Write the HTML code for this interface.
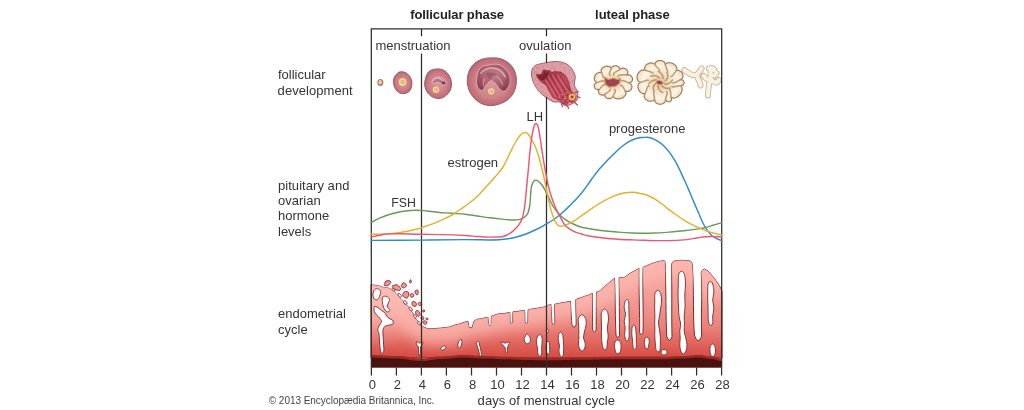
<!DOCTYPE html>
<html><head><meta charset="utf-8"><title>Menstrual cycle</title>
<style>
html,body{margin:0;padding:0;background:#fff;}
svg{display:block}
text{font-family:"Liberation Sans",Arial,sans-serif;fill:#343434;font-size:13px}
.b{font-weight:bold;fill:#222}
.ln{stroke:#2e2e2e;stroke-width:1.25;fill:none}
.cv{fill:none;stroke-width:1.45;stroke-linecap:round;stroke-linejoin:round}
</style></head><body>
<svg width="1024" height="410" viewBox="0 0 1024 410">
<defs>
<linearGradient id="endo" x1="0" y1="258" x2="0" y2="358" gradientUnits="userSpaceOnUse">
<stop offset="0" stop-color="#f8aca6"/><stop offset="0.4" stop-color="#f39c96"/><stop offset="0.68" stop-color="#eb827b"/><stop offset="0.86" stop-color="#e0645c"/><stop offset="1" stop-color="#d54a42"/>
</linearGradient>
<radialGradient id="lm" cx="382" cy="292" r="56" gradientUnits="userSpaceOnUse">
<stop offset="0" stop-color="#fdd0c9" stop-opacity="0.85"/><stop offset="0.5" stop-color="#fbc0b9" stop-opacity="0.55"/><stop offset="1" stop-color="#f8aca5" stop-opacity="0"/>
</radialGradient>
<filter id="bl" x="-10%" y="-50%" width="120%" height="200%"><feGaussianBlur stdDeviation="7"/></filter>
</defs>
<rect width="1024" height="410" fill="#fff"/>

<!--ENDO-->
<path d="M371 358 L371 284.7 L375.0 285.4 L380.0 286.2 L384.2 287.7 L388.0 288.0 L391.2 289.4 L394.0 291.0 L396.0 294.0 L398.5 294.7 L400.0 298.0 L402.8 300.5 L404.5 304.0 L408.5 306.3 L410.0 310.0 L413.2 313.2 L414.5 317.5 L417.8 321.3 L420.0 325.0 L423.6 327.0 L427.0 328.6 L430.6 328.8 L436.0 328.5 L441.7 328.0 L449.5 327.0 L454.0 325.3 L459.3 324.0 L468.0 321.2 L469.0 327.5 L472.0 328.0 L474.0 321.2 L476.8 319.3 L482.0 318.6 L487.4 317.3 L488.0 317.3 C488.2 320.2 488.4 324.3 488.4 324.3 Q489.8 327.9 491.2 324.3 C491.2 323.3 491.2 319.2 491.4 316.3 L496.0 314.6 L500.0 313.6 L505.0 313.4 L509.2 312.5 L509.8 312.5 C510.0 316.0 510.1 320.9 510.1 321.9 Q511.4 325.3 512.7 321.9 C512.7 320.2 512.8 315.3 513.0 311.8 L518.0 311.4 L524.0 310.3 L524.6 310.3 C524.8 314.5 524.9 320.3 525.0 321.7 Q526.4 325.5 527.8 321.7 C527.9 319.6 528.0 313.8 528.2 309.6 L536.0 308.5 L545.0 306.8 L549.7 304.6 L550.9 304.4 C551.1 310.5 551.8 318.9 551.9 322.6 Q553.4 326.5 554.9 322.6 C555.0 318.8 554.4 310.4 554.6 304.3 L562.0 302.8 L570.2 301.4 L570.5 301.2 C570.7 309.5 571.6 321.1 571.9 324.6 Q574.0 330.1 576.1 324.6 C576.4 319.5 575.6 307.9 575.8 299.6 L579.0 298.4 L583.8 296.6 L589.0 295.0 L592.4 293.6 L592.3 293.4 C592.5 305.4 592.6 322.2 592.7 329.9 Q594.4 334.3 596.1 329.9 C596.2 320.8 596.3 304.0 596.5 292.0 L599.0 291.6 L604.7 286.4 L610.0 282.0 L614.8 278.2 L614.5 278.0 C615.3 296.0 615.2 321.1 616.0 335.2 Q617.8 340.0 619.6 335.2 C619.2 320.7 619.5 295.6 619.1 277.6 L624.0 277.6 L631.0 272.8 L638.8 268.6 L638.9 268.3 C638.6 288.4 640.0 316.6 639.6 332.4 Q641.3 336.8 643.0 332.4 C643.6 315.7 642.4 287.5 643.1 267.4 L647.0 265.6 L652.0 263.6 L658.0 261.6 L664.0 260.6 L665.0 261.4 L665.1 262.6 C666.1 285.8 665.7 318.3 666.8 336.8 Q669.4 343.5 672.0 336.8 C671.5 318.7 672.1 286.8 671.5 264.0 L673.0 262.0 L675.4 260.6 L683.0 260.3 L690.4 261.0 L692.0 263.4 L692.6 267.0 L692.5 269.0 C694.2 290.4 692.6 320.5 694.7 336.1 Q698.2 345.3 701.7 336.1 C700.8 321.3 702.5 292.6 701.2 272.0 L702.4 270.3 L704.3 269.0 L708.0 271.0 L712.7 276.4 L716.0 280.6 L719.6 286.0 L722.0 291.5 L722 358 Z" fill="url(#endo)" stroke="#7e2828" stroke-width="1" stroke-linejoin="round"/>
<clipPath id="ec"><path d="M371 358 L371 284.7 L375.0 285.4 L380.0 286.2 L384.2 287.7 L388.0 288.0 L391.2 289.4 L394.0 291.0 L396.0 294.0 L398.5 294.7 L400.0 298.0 L402.8 300.5 L404.5 304.0 L408.5 306.3 L410.0 310.0 L413.2 313.2 L414.5 317.5 L417.8 321.3 L420.0 325.0 L423.6 327.0 L427.0 328.6 L430.6 328.8 L436.0 328.5 L441.7 328.0 L449.5 327.0 L454.0 325.3 L459.3 324.0 L468.0 321.2 L469.0 327.5 L472.0 328.0 L474.0 321.2 L476.8 319.3 L482.0 318.6 L487.4 317.3 L488.0 317.3 C488.2 320.2 488.4 324.3 488.4 324.3 Q489.8 327.9 491.2 324.3 C491.2 323.3 491.2 319.2 491.4 316.3 L496.0 314.6 L500.0 313.6 L505.0 313.4 L509.2 312.5 L509.8 312.5 C510.0 316.0 510.1 320.9 510.1 321.9 Q511.4 325.3 512.7 321.9 C512.7 320.2 512.8 315.3 513.0 311.8 L518.0 311.4 L524.0 310.3 L524.6 310.3 C524.8 314.5 524.9 320.3 525.0 321.7 Q526.4 325.5 527.8 321.7 C527.9 319.6 528.0 313.8 528.2 309.6 L536.0 308.5 L545.0 306.8 L549.7 304.6 L550.9 304.4 C551.1 310.5 551.8 318.9 551.9 322.6 Q553.4 326.5 554.9 322.6 C555.0 318.8 554.4 310.4 554.6 304.3 L562.0 302.8 L570.2 301.4 L570.5 301.2 C570.7 309.5 571.6 321.1 571.9 324.6 Q574.0 330.1 576.1 324.6 C576.4 319.5 575.6 307.9 575.8 299.6 L579.0 298.4 L583.8 296.6 L589.0 295.0 L592.4 293.6 L592.3 293.4 C592.5 305.4 592.6 322.2 592.7 329.9 Q594.4 334.3 596.1 329.9 C596.2 320.8 596.3 304.0 596.5 292.0 L599.0 291.6 L604.7 286.4 L610.0 282.0 L614.8 278.2 L614.5 278.0 C615.3 296.0 615.2 321.1 616.0 335.2 Q617.8 340.0 619.6 335.2 C619.2 320.7 619.5 295.6 619.1 277.6 L624.0 277.6 L631.0 272.8 L638.8 268.6 L638.9 268.3 C638.6 288.4 640.0 316.6 639.6 332.4 Q641.3 336.8 643.0 332.4 C643.6 315.7 642.4 287.5 643.1 267.4 L647.0 265.6 L652.0 263.6 L658.0 261.6 L664.0 260.6 L665.0 261.4 L665.1 262.6 C666.1 285.8 665.7 318.3 666.8 336.8 Q669.4 343.5 672.0 336.8 C671.5 318.7 672.1 286.8 671.5 264.0 L673.0 262.0 L675.4 260.6 L683.0 260.3 L690.4 261.0 L692.0 263.4 L692.6 267.0 L692.5 269.0 C694.2 290.4 692.6 320.5 694.7 336.1 Q698.2 345.3 701.7 336.1 C700.8 321.3 702.5 292.6 701.2 272.0 L702.4 270.3 L704.3 269.0 L708.0 271.0 L712.7 276.4 L716.0 280.6 L719.6 286.0 L722.0 291.5 L722 358 Z"/></clipPath>
<rect x="371" y="280" width="70" height="75" fill="url(#lm)" clip-path="url(#ec)"/>
<g clip-path="url(#ec)"><path d="M371.0 284.7L384.0 287.7L391.0 289.4L398.0 294.7L403.0 300.5L408.5 306.3L413.0 313.2L418.0 321.3L424.0 327.0L431.0 328.8L442.0 328.0L450.0 327.0L459.0 324.0L468.0 321.2L477.0 319.3L488.0 317.3L500.0 313.5L512.0 312.0L526.0 310.0L545.0 306.8L553.0 304.5L572.0 300.5L584.0 296.6L594.0 293.0L605.0 286.4L616.0 278.0L631.0 272.8L641.0 268.0L652.0 263.6L664.0 260.6L672.0 262.5L683.0 260.3L692.0 262.0L701.0 271.0L705.0 269.0L713.0 276.4L722.0 291.5" fill="none" stroke="#fcb8b0" stroke-width="32" stroke-linejoin="round" filter="url(#bl)" opacity="0.8"/></g>
<path d="M373.8 291.0C374.4 289.9 375.5 288.7 376.6 288.6C377.7 288.5 379.6 289.5 380.2 290.6C380.8 291.7 380.4 293.5 380.0 295.0C379.6 296.5 378.5 298.9 377.6 299.6C376.7 300.3 375.2 299.8 374.4 299.0C373.6 298.2 373.0 296.3 372.9 295.0C372.8 293.7 373.2 292.1 373.8 291.0Z" fill="#fff" stroke="#7e2828" stroke-width="0.9"/>
<path d="M382.6 297.2C383.3 296.3 385.3 296.0 386.5 296.4C387.7 296.8 389.3 298.5 389.6 299.6C389.9 300.7 388.7 301.8 388.3 303.0C387.9 304.2 387.0 305.8 387.3 307.0C387.6 308.2 390.1 309.2 390.0 310.0C389.9 310.8 388.1 312.5 387.0 312.0C385.9 311.5 384.2 308.8 383.4 307.0C382.6 305.2 382.5 303.1 382.4 301.5C382.3 299.9 381.9 298.1 382.6 297.2Z" fill="#fff" stroke="#7e2828" stroke-width="0.9"/>
<path d="M374.4 306.6C375.0 306.0 376.8 307.0 378.0 307.6C379.2 308.2 380.3 309.7 381.4 310.5C382.5 311.3 383.7 311.6 384.6 312.5C385.5 313.4 385.9 315.0 386.6 316.0C387.3 317.0 388.0 317.7 389.0 318.4C390.0 319.1 391.8 319.1 392.5 320.0C393.2 320.9 393.7 323.1 393.0 324.0C392.3 324.9 389.8 324.8 388.4 325.2C387.0 325.6 385.7 325.7 384.8 326.4C383.9 327.1 383.3 328.1 383.0 329.5C382.7 330.9 382.9 332.8 383.0 335.0C383.1 337.2 383.4 340.3 383.5 343.0C383.6 345.7 384.0 349.2 383.8 351.0C383.6 352.8 382.8 353.7 382.2 353.5C381.6 353.3 380.8 351.9 380.4 350.0C380.0 348.1 379.8 344.7 379.6 342.0C379.4 339.3 379.3 336.1 379.0 334.0C378.7 331.9 377.7 331.0 377.8 329.5C377.9 328.0 379.0 326.3 379.6 325.0C380.2 323.7 381.6 322.8 381.6 321.6C381.6 320.4 380.4 319.1 379.6 318.0C378.8 316.9 377.5 316.1 376.6 315.0C375.7 313.9 374.8 312.9 374.4 311.5C374.0 310.1 373.8 307.2 374.4 306.6Z" fill="#fff" stroke="#7e2828" stroke-width="0.9"/>
<path d="M416.4 341.6C416.9 341.3 418.5 343.0 419.6 343.0C420.7 343.0 422.4 341.5 422.8 341.8C423.2 342.1 422.6 344.1 422.2 345.0C421.8 345.9 420.9 345.8 420.6 347.0C420.3 348.2 420.7 350.4 420.6 352.0C420.5 353.6 420.1 356.5 419.8 356.5C419.5 356.5 418.8 353.6 418.6 352.0C418.4 350.4 418.7 348.2 418.4 347.0C418.1 345.8 417.1 345.9 416.8 345.0C416.5 344.1 415.9 341.9 416.4 341.6Z" fill="#fff" stroke="#7e2828" stroke-width="0.9"/>
<path d="M445.6 346.7C445.8 347.0 445.9 347.6 445.6 348.1C445.4 348.5 444.7 349.1 444.1 349.4C443.5 349.8 442.7 350.1 442.2 350.1C441.6 350.1 441.0 349.8 440.8 349.4C440.7 349.1 440.9 348.4 441.2 348.0C441.5 347.5 442.0 347.0 442.5 346.7C443.1 346.3 444.0 345.8 444.5 345.8C445.0 345.8 445.4 346.3 445.6 346.7Z" fill="#fff" stroke="#7e2828" stroke-width="0.9"/>
<path d="M461.7 344.0C461.4 345.0 460.9 346.1 460.4 346.8C459.9 347.5 459.2 348.4 458.7 348.3C458.3 348.2 458.1 347.1 458.0 346.3C457.9 345.4 457.9 344.1 458.1 343.1C458.4 342.1 459.1 340.9 459.6 340.3C460.1 339.6 460.8 339.1 461.2 339.2C461.6 339.4 461.8 340.3 461.9 341.1C462.0 341.9 461.9 343.1 461.7 344.0Z" fill="#fff" stroke="#7e2828" stroke-width="0.9"/>
<path d="M476.4 342.5C476.7 341.8 478.3 341.2 478.8 341.6C479.3 342.0 479.3 343.6 479.6 345.0C479.9 346.4 480.5 348.2 480.8 350.0C481.1 351.8 481.7 354.6 481.6 355.5C481.5 356.4 480.5 356.6 480.0 355.7C479.5 354.8 478.9 351.6 478.4 350.0C477.9 348.4 477.5 347.2 477.2 346.0C476.9 344.8 476.1 343.2 476.4 342.5Z" fill="#fff" stroke="#7e2828" stroke-width="0.9"/>
<path d="M500.6 342.0C501.0 341.7 503.5 343.0 505.0 343.0C506.5 343.0 508.8 341.8 509.4 342.1C510.0 342.4 508.8 344.0 508.5 345.0C508.2 346.0 507.6 346.7 507.5 348.0C507.4 349.3 507.8 352.0 507.6 352.8C507.4 353.6 506.6 353.6 506.2 352.8C505.8 352.0 505.8 349.3 505.2 348.0C504.6 346.7 503.6 346.0 502.8 345.0C502.0 344.0 500.2 342.3 500.6 342.0Z" fill="#fff" stroke="#7e2828" stroke-width="0.9"/>
<path d="M527.4 334.0C528.2 334.2 529.5 336.2 530.0 337.5C530.5 338.8 530.6 340.4 530.2 341.5C529.8 342.6 528.3 343.8 527.4 343.8C526.5 343.8 525.3 342.5 524.8 341.6C524.3 340.7 524.1 339.5 524.2 338.6C524.3 337.7 524.9 336.8 525.4 336.0C525.9 335.2 526.6 333.8 527.4 334.0Z" fill="#fff" stroke="#7e2828" stroke-width="0.9"/>
<path d="M539.6 334.4C538.8 334.4 537.8 335.7 537.3 337.0C536.7 338.3 536.3 340.2 536.3 342.0C536.4 343.8 537.2 346.0 537.5 348.0C537.8 350.0 537.6 352.6 538.0 354.0C538.4 355.4 539.2 356.1 539.8 356.1C540.4 356.1 541.3 355.4 541.6 354.0C541.9 352.6 541.6 350.0 541.7 348.0C541.8 346.0 542.0 343.8 542.1 342.0C542.1 340.2 542.4 338.3 541.9 337.0C541.5 335.7 540.4 334.4 539.6 334.4Z" fill="#fff" stroke="#7e2828" stroke-width="0.9"/>
<path d="M548.8 331.0C548.9 331.5 548.5 332.3 548.2 332.6C547.9 332.8 547.2 332.7 546.8 332.5C546.5 332.2 546.1 331.5 546.1 331.0C546.1 330.5 546.5 329.7 546.8 329.5C547.2 329.3 547.8 329.4 548.1 329.7C548.4 329.9 548.8 330.5 548.8 331.0Z" fill="#fff" stroke="#7e2828" stroke-width="0.9"/>
<path d="M548.0 341.3C547.5 341.3 546.9 341.9 546.6 343.0C546.2 344.1 545.9 346.4 546.0 348.0C546.0 349.6 546.4 351.5 546.8 352.5C547.1 353.5 547.7 354.2 548.2 354.2C548.7 354.2 549.4 353.5 549.6 352.5C549.9 351.5 549.7 349.6 549.6 348.0C549.6 346.4 549.7 344.1 549.4 343.0C549.2 341.9 548.5 341.3 548.0 341.3Z" fill="#fff" stroke="#7e2828" stroke-width="0.9"/>
<path d="M560.6 332.2C560.0 332.2 559.0 333.2 558.6 334.5C558.3 335.8 558.2 338.1 558.3 340.0C558.5 341.9 559.4 344.2 559.5 346.0C559.6 347.8 558.8 349.5 558.9 351.0C558.9 352.5 559.5 354.0 559.9 355.0C560.4 356.0 561.0 357.0 561.6 357.0C562.2 357.0 563.0 356.0 563.3 355.0C563.6 354.0 563.5 352.5 563.5 351.0C563.6 349.5 563.7 347.8 563.7 346.0C563.6 344.2 563.5 341.9 563.3 340.0C563.1 338.1 563.0 335.8 562.6 334.5C562.1 333.2 561.2 332.2 560.6 332.2Z" fill="#fff" stroke="#7e2828" stroke-width="0.9"/>
<path d="M582.0 314.6C580.8 314.6 579.0 316.8 578.4 318.5C577.9 320.2 578.6 322.8 578.7 325.0C578.7 327.2 578.8 329.8 578.8 332.0C578.8 334.2 578.9 336.2 578.9 338.0C578.8 339.8 578.3 341.3 578.4 343.0C578.4 344.7 578.6 346.7 579.2 348.0C579.8 349.3 581.1 351.1 582.0 351.1C582.9 351.1 584.3 349.3 584.8 348.0C585.3 346.7 585.4 344.7 585.2 343.0C585.0 341.3 583.7 339.8 583.5 338.0C583.4 336.2 584.0 334.2 584.4 332.0C584.8 329.8 585.9 327.2 586.1 325.0C586.3 322.8 586.3 320.2 585.6 318.5C584.9 316.8 583.2 314.6 582.0 314.6Z" fill="#fff" stroke="#7e2828" stroke-width="0.9"/>
<path d="M604.6 309.1C603.6 309.1 602.0 310.7 601.5 312.5C601.0 314.3 601.3 317.4 601.3 320.0C601.3 322.6 601.4 325.3 601.5 328.0C601.5 330.7 601.3 333.5 601.4 336.0C601.5 338.5 601.7 341.1 602.0 343.0C602.2 344.9 602.4 346.4 602.9 347.5C603.4 348.6 604.2 349.8 604.9 349.8C605.6 349.8 606.5 348.6 606.9 347.5C607.3 346.4 607.0 344.9 607.2 343.0C607.5 341.1 608.2 338.5 608.2 336.0C608.2 333.5 607.3 330.7 607.3 328.0C607.4 325.3 608.4 322.6 608.5 320.0C608.5 317.4 608.3 314.3 607.7 312.5C607.1 310.7 605.6 309.1 604.6 309.1Z" fill="#fff" stroke="#7e2828" stroke-width="0.9"/>
<path d="M614.6 343.0C615.0 341.6 616.4 340.1 617.4 340.0C618.4 339.9 620.0 341.2 620.6 342.5C621.2 343.8 621.1 345.8 621.0 347.5C620.9 349.2 620.5 351.6 619.8 352.6C619.1 353.6 617.4 354.1 616.6 353.4C615.8 352.7 615.1 350.3 614.8 348.6C614.5 346.9 614.2 344.4 614.6 343.0Z" fill="#fff" stroke="#7e2828" stroke-width="0.9"/>
<path d="M626.9 299.5C626.3 299.5 625.6 300.1 625.2 301.5C624.7 302.9 624.1 305.9 624.2 308.0C624.2 310.1 625.6 311.8 625.6 314.0C625.6 316.2 624.3 318.7 624.2 321.0C624.2 323.3 625.2 325.8 625.2 328.0C625.3 330.2 624.5 332.2 624.6 334.0C624.6 335.8 625.1 337.9 625.6 339.0C626.0 340.1 626.6 340.9 627.1 340.9C627.6 340.9 628.3 340.1 628.6 339.0C629.0 337.9 629.2 335.8 629.2 334.0C629.3 332.2 629.0 330.2 629.0 328.0C629.0 325.8 629.2 323.3 629.2 321.0C629.2 318.7 629.1 316.2 629.0 314.0C628.9 311.8 628.9 310.1 628.8 308.0C628.8 305.9 628.9 302.9 628.6 301.5C628.3 300.1 627.5 299.5 626.9 299.5Z" fill="#fff" stroke="#7e2828" stroke-width="0.9"/>
<path d="M633.8 325.1C633.3 325.1 632.6 325.5 632.2 327.0C631.9 328.5 631.8 331.7 631.8 334.0C631.9 336.3 632.4 338.8 632.6 341.0C632.9 343.2 632.8 346.1 633.2 347.5C633.5 348.9 634.2 349.4 634.7 349.4C635.2 349.4 636.0 348.9 636.2 347.5C636.5 346.1 636.4 343.2 636.4 341.0C636.3 338.8 636.3 336.3 636.2 334.0C636.0 331.7 635.7 328.5 635.3 327.0C635.0 325.5 634.3 325.1 633.8 325.1Z" fill="#fff" stroke="#7e2828" stroke-width="0.9"/>
<path d="M645.0 338.6C645.5 337.6 646.7 337.2 647.4 337.4C648.1 337.6 649.0 338.7 649.2 340.0C649.4 341.3 649.1 343.6 648.8 345.0C648.5 346.4 648.2 348.1 647.6 348.6C647.0 349.1 645.9 348.8 645.4 348.0C644.9 347.2 644.7 345.2 644.6 343.6C644.5 342.0 644.5 339.6 645.0 338.6Z" fill="#fff" stroke="#7e2828" stroke-width="0.9"/>
<path d="M657.8 290.4C656.9 290.4 655.5 291.7 655.0 293.5C654.5 295.3 654.8 298.4 654.8 301.0C654.7 303.6 654.6 306.5 654.7 309.0C654.7 311.5 654.9 313.7 654.9 316.0C654.9 318.3 654.7 320.7 654.7 323.0C654.7 325.3 654.9 327.7 654.9 330.0C654.9 332.3 654.7 334.7 654.8 337.0C654.9 339.3 655.2 341.9 655.4 344.0C655.6 346.1 655.6 348.2 656.0 349.5C656.4 350.8 657.3 351.8 658.0 351.8C658.7 351.8 659.6 350.8 660.0 349.5C660.4 348.2 660.3 346.1 660.4 344.0C660.4 341.9 660.5 339.3 660.4 337.0C660.2 334.7 659.8 332.3 659.5 330.0C659.2 327.7 658.5 325.3 658.5 323.0C658.5 320.7 659.2 318.3 659.5 316.0C659.9 313.7 660.2 311.5 660.5 309.0C660.9 306.5 661.6 303.6 661.6 301.0C661.6 298.4 661.2 295.3 660.6 293.5C660.0 291.7 658.7 290.4 657.8 290.4Z" fill="#fff" stroke="#7e2828" stroke-width="0.9"/>
<path d="M661.4 351.0C661.8 350.3 663.1 349.4 664.0 349.4C664.9 349.4 666.4 350.2 666.8 351.0C667.2 351.8 666.9 353.3 666.4 354.0C665.9 354.7 664.6 355.0 663.8 355.0C663.0 355.0 662.0 354.5 661.6 353.8C661.2 353.1 661.0 351.7 661.4 351.0Z" fill="#fff" stroke="#7e2828" stroke-width="0.9"/>
<path d="M681.6 271.3C680.6 271.3 679.2 272.4 678.7 274.5C678.1 276.6 678.4 280.6 678.3 284.0C678.2 287.4 678.0 291.3 678.0 295.0C678.0 298.7 678.4 302.5 678.5 306.0C678.7 309.5 678.6 313.0 679.0 316.0C679.3 319.0 680.6 321.5 680.7 324.0C680.9 326.5 679.9 328.7 679.8 331.0C679.7 333.3 680.2 335.7 680.2 338.0C680.2 340.3 679.7 342.8 679.8 345.0C679.9 347.2 680.2 349.5 680.8 351.0C681.4 352.5 682.5 353.9 683.4 353.9C684.3 353.9 685.4 352.5 686.0 351.0C686.6 349.5 687.0 347.2 687.0 345.0C686.9 342.8 686.3 340.3 685.8 338.0C685.3 335.7 684.4 333.3 684.2 331.0C683.9 328.7 684.4 326.5 684.5 324.0C684.5 321.5 684.1 319.0 684.2 316.0C684.3 313.0 685.0 309.5 685.1 306.0C685.2 302.5 684.7 298.7 684.8 295.0C684.9 291.3 685.5 287.4 685.5 284.0C685.4 280.6 685.2 276.6 684.5 274.5C683.9 272.4 682.6 271.3 681.6 271.3Z" fill="#fff" stroke="#7e2828" stroke-width="0.9"/>
<path d="M710.4 281.4C709.6 281.4 708.5 282.2 708.1 284.0C707.6 285.8 707.8 289.3 707.7 292.0C707.6 294.7 707.7 297.3 707.7 300.0C707.8 302.7 708.0 305.3 708.1 308.0C708.1 310.7 708.0 313.5 708.1 316.0C708.2 318.5 708.3 321.4 708.8 323.0C709.2 324.6 710.1 325.3 710.8 325.3C711.5 325.3 712.5 324.6 712.8 323.0C713.1 321.4 712.5 318.5 712.7 316.0C712.9 313.5 714.0 310.7 713.9 308.0C713.9 305.3 712.7 302.7 712.7 300.0C712.7 297.3 713.9 294.7 713.9 292.0C713.9 289.3 713.3 285.8 712.7 284.0C712.1 282.2 711.2 281.4 710.4 281.4Z" fill="#fff" stroke="#7e2828" stroke-width="0.9"/>
<path d="M712.6 343.9C711.8 343.9 710.7 345.3 710.3 346.5C709.8 347.7 709.9 349.7 710.0 351.0C710.1 352.3 710.2 353.5 710.7 354.5C711.1 355.5 712.0 356.8 712.7 356.8C713.4 356.8 714.2 355.5 714.7 354.5C715.2 353.5 715.6 352.3 715.6 351.0C715.6 349.7 715.4 347.7 714.9 346.5C714.4 345.3 713.4 343.9 712.6 343.9Z" fill="#fff" stroke="#7e2828" stroke-width="0.9"/>
<path d="M401.2 297.0C400.9 297.2 400.2 297.3 399.8 297.1C399.3 296.9 398.7 296.4 398.4 296.0C398.2 295.6 398.2 295.1 398.2 294.7C398.2 294.3 398.3 293.5 398.6 293.4C398.9 293.3 399.7 293.8 400.2 294.2C400.7 294.5 401.2 295.1 401.4 295.6C401.6 296.0 401.5 296.7 401.2 297.0Z" fill="#fff" stroke="#7e2828" stroke-width="0.9"/>
<path d="M406.8 304.0C406.5 304.2 405.8 304.2 405.4 304.1C404.9 303.9 404.1 303.5 403.8 303.1C403.5 302.7 403.6 302.0 403.7 301.6C403.7 301.2 403.9 300.7 404.3 300.6C404.6 300.5 405.3 300.9 405.8 301.2C406.2 301.6 406.9 302.1 407.0 302.6C407.2 303.0 407.0 303.7 406.8 304.0Z" fill="#fff" stroke="#7e2828" stroke-width="0.9"/>
<path d="M412.3 310.7C412.0 310.9 411.2 310.6 410.7 310.4C410.3 310.2 409.8 309.9 409.5 309.5C409.3 309.2 409.1 308.6 409.1 308.2C409.1 307.8 409.2 307.0 409.6 307.0C409.9 306.9 410.7 307.4 411.2 307.8C411.7 308.1 412.2 308.7 412.3 309.2C412.5 309.6 412.5 310.5 412.3 310.7Z" fill="#fff" stroke="#7e2828" stroke-width="0.9"/>
<path d="M416.2 317.6C415.9 317.8 415.5 318.0 415.1 317.9C414.8 317.8 414.2 317.3 413.9 316.9C413.7 316.6 413.5 316.0 413.6 315.7C413.6 315.3 413.9 314.9 414.2 314.8C414.5 314.8 415.1 315.0 415.6 315.3C416.0 315.5 416.6 316.2 416.7 316.6C416.8 316.9 416.4 317.4 416.2 317.6Z" fill="#fff" stroke="#7e2828" stroke-width="0.9"/>
<path d="M420.5 324.5C420.2 324.7 419.8 324.9 419.3 324.8C418.9 324.7 418.3 324.2 418.0 323.8C417.7 323.4 417.4 322.7 417.5 322.3C417.6 322.0 418.1 321.7 418.4 321.7C418.8 321.7 419.3 322.0 419.6 322.3C420.0 322.6 420.6 323.0 420.8 323.3C420.9 323.7 420.7 324.2 420.5 324.5Z" fill="#fff" stroke="#7e2828" stroke-width="0.9"/>
<path d="M394.7 290.9C394.5 291.1 393.9 291.2 393.5 291.1C393.1 290.9 392.7 290.5 392.4 290.1C392.2 289.7 391.9 289.1 392.0 288.9C392.0 288.6 392.5 288.5 392.8 288.4C393.1 288.4 393.6 288.3 393.9 288.5C394.3 288.7 394.6 289.3 394.7 289.7C394.8 290.1 394.9 290.7 394.7 290.9Z" fill="#fff" stroke="#7e2828" stroke-width="0.9"/>
<path d="M390.8 281.9C390.9 282.4 390.5 283.1 390.0 283.7C389.5 284.4 388.6 285.3 387.7 285.6C386.8 285.9 385.0 285.8 384.5 285.4C384.0 285.0 384.6 283.9 384.8 283.2C385.1 282.4 385.3 281.4 386.0 281.0C386.8 280.6 388.4 280.5 389.2 280.7C389.9 280.8 390.7 281.4 390.8 281.9Z" fill="#f19492" stroke="#7e2828" stroke-width="0.9"/>
<path d="M400.6 289.7C400.3 290.2 399.4 290.6 398.5 290.5C397.5 290.4 395.7 290.0 394.7 289.3C393.7 288.6 392.3 287.0 392.2 286.2C392.2 285.5 393.5 285.3 394.4 285.1C395.2 284.8 396.4 284.5 397.3 284.9C398.2 285.3 399.4 286.6 399.9 287.4C400.5 288.2 400.8 289.1 400.6 289.7Z" fill="#f19492" stroke="#7e2828" stroke-width="0.9"/>
<path d="M406.7 285.4C406.7 285.9 406.0 286.6 405.4 287.0C404.9 287.5 404.1 288.0 403.4 287.9C402.7 287.8 401.7 287.1 401.4 286.5C401.1 286.0 401.4 285.0 401.8 284.4C402.1 283.8 402.7 282.9 403.4 282.8C404.0 282.7 404.9 283.3 405.4 283.8C406.0 284.2 406.7 284.9 406.7 285.4Z" fill="#f19492" stroke="#7e2828" stroke-width="0.9"/>
<path d="M411.2 281.6C411.2 282.1 411.0 282.8 410.8 283.0C410.6 283.1 410.2 283.0 410.0 282.8C409.8 282.6 409.5 282.4 409.5 282.0C409.4 281.6 409.5 281.0 409.7 280.7C409.8 280.3 410.2 279.8 410.5 279.8C410.7 279.8 411.0 280.2 411.1 280.5C411.3 280.8 411.3 281.2 411.2 281.6Z" fill="#f19492" stroke="#7e2828" stroke-width="0.9"/>
<path d="M408.5 295.5C408.2 296.4 407.8 297.9 407.1 298.2C406.5 298.5 405.3 297.9 404.6 297.4C403.9 296.9 402.9 296.1 402.7 295.3C402.6 294.4 403.3 292.7 404.0 292.1C404.6 291.5 405.9 291.4 406.7 291.5C407.5 291.7 408.5 292.2 408.8 292.9C409.1 293.5 408.8 294.6 408.5 295.5Z" fill="#f19492" stroke="#7e2828" stroke-width="0.9"/>
<path d="M413.8 295.4C413.8 295.9 413.5 296.6 413.2 296.9C412.8 297.2 412.1 297.3 411.6 297.2C411.1 297.1 410.6 296.6 410.4 296.2C410.1 295.8 410.1 295.1 410.3 294.6C410.5 294.1 411.1 293.5 411.5 293.4C412.0 293.3 412.7 293.7 413.1 294.0C413.5 294.3 413.8 294.9 413.8 295.4Z" fill="#f19492" stroke="#7e2828" stroke-width="0.9"/>
<path d="M418.3 292.7C418.2 293.3 417.9 294.3 417.5 294.6C417.1 294.8 416.4 294.6 416.0 294.4C415.6 294.1 415.3 293.7 415.2 293.1C415.0 292.5 414.9 291.4 415.2 290.9C415.4 290.4 416.2 290.1 416.7 290.1C417.2 290.0 417.8 290.3 418.1 290.7C418.3 291.2 418.4 292.0 418.3 292.7Z" fill="#f19492" stroke="#7e2828" stroke-width="0.9"/>
<path d="M416.4 305.2C416.1 305.7 415.6 306.3 415.0 306.4C414.3 306.4 413.1 306.1 412.6 305.6C412.1 305.2 412.0 304.3 412.0 303.6C412.0 303.0 412.0 302.1 412.4 301.8C412.9 301.4 414.2 301.4 414.9 301.7C415.5 302.0 416.1 302.9 416.4 303.5C416.6 304.1 416.6 304.7 416.4 305.2Z" fill="#f19492" stroke="#7e2828" stroke-width="0.9"/>
<path d="M421.9 304.0C421.9 304.4 421.5 305.0 421.1 305.3C420.7 305.6 420.0 305.8 419.6 305.7C419.1 305.6 418.7 305.1 418.5 304.7C418.3 304.3 418.1 303.6 418.3 303.2C418.4 302.8 419.1 302.3 419.6 302.2C420.0 302.2 420.5 302.6 420.9 302.9C421.3 303.2 421.8 303.6 421.9 304.0Z" fill="#f19492" stroke="#7e2828" stroke-width="0.9"/>
<path d="M419.6 312.6C419.9 313.3 420.2 314.3 420.0 315.0C419.8 315.6 419.0 316.5 418.4 316.5C417.8 316.5 416.9 315.5 416.5 314.9C416.0 314.3 415.5 313.4 415.5 312.7C415.5 312.0 415.8 310.9 416.3 310.6C416.8 310.3 417.8 310.4 418.3 310.8C418.8 311.1 419.3 311.9 419.6 312.6Z" fill="#f19492" stroke="#7e2828" stroke-width="0.9"/>
<path d="M424.7 311.0C424.6 311.3 424.5 311.6 424.3 311.8C424.0 312.0 423.6 312.1 423.4 312.0C423.1 312.0 422.7 311.8 422.6 311.5C422.4 311.3 422.5 310.8 422.7 310.5C422.8 310.3 423.1 310.0 423.4 310.0C423.6 309.9 424.1 309.9 424.4 310.0C424.6 310.2 424.7 310.7 424.7 311.0Z" fill="#f19492" stroke="#7e2828" stroke-width="0.9"/>
<path d="M423.8 318.0C423.8 318.4 423.8 319.1 423.5 319.3C423.2 319.6 422.4 319.9 422.0 319.8C421.6 319.7 421.1 319.1 421.0 318.7C420.8 318.3 420.9 317.8 421.0 317.3C421.2 316.9 421.6 316.3 422.0 316.2C422.4 316.1 423.0 316.5 423.3 316.8C423.7 317.1 423.8 317.6 423.8 318.0Z" fill="#f19492" stroke="#7e2828" stroke-width="0.9"/>
<path d="M426.6 323.5C426.4 323.9 426.0 324.2 425.4 324.3C424.9 324.3 423.9 324.0 423.5 323.6C423.1 323.3 423.0 322.5 422.9 322.1C422.9 321.7 423.0 321.1 423.4 321.0C423.8 320.8 424.5 320.8 425.1 321.0C425.7 321.2 426.7 321.7 426.9 322.1C427.2 322.6 426.9 323.2 426.6 323.5Z" fill="#f19492" stroke="#7e2828" stroke-width="0.9"/>
<path d="M428.0 319.0C428.0 319.3 427.9 319.7 427.7 319.9C427.5 320.0 427.1 319.9 426.8 319.9C426.5 319.8 426.3 319.6 426.1 319.4C426.0 319.2 425.9 318.8 426.0 318.5C426.1 318.3 426.5 317.9 426.7 317.9C427.0 317.8 427.4 318.0 427.6 318.2C427.8 318.4 428.0 318.7 428.0 319.0Z" fill="#f19492" stroke="#7e2828" stroke-width="0.9"/>
<path d="M371 355.0 C383.5 355.0 383.5 356.0 396.0 356.0 C408.5 356.0 408.5 358.4 421.0 358.4 C431.5 358.4 431.5 356.4 442.0 356.4 C452.8 356.4 452.8 355.0 463.5 355.0 C474.2 355.0 474.2 356.0 485.0 356.0 C495.3 356.0 495.3 356.7 505.6 356.7 C516.3 356.7 516.3 357.4 527.0 357.4 C537.5 357.4 537.5 357.8 548.0 357.8 C564.0 357.8 564.0 357.2 580.0 357.2 C595.5 357.2 595.5 356.7 611.0 356.7 C625.5 356.7 625.5 356.6 640.0 356.6 C652.0 356.6 652.0 356.7 664.0 356.7 C673.0 356.7 673.0 356.0 682.0 356.0 C690.5 356.0 690.5 355.0 699.0 355.0 C705.0 355.0 705.0 356.4 711.0 356.4 C716.5 356.4 716.5 358.4 722.0 358.4 L722 367.5 L371 367.5 Z" fill="#9a2a24"/>
<path d="M371 357.6 C383.5 357.6 383.5 358.6 396.0 358.6 C408.5 358.6 408.5 361.0 421.0 361.0 C431.5 361.0 431.5 359.0 442.0 359.0 C452.8 359.0 452.8 357.6 463.5 357.6 C474.2 357.6 474.2 358.6 485.0 358.6 C495.3 358.6 495.3 359.3 505.6 359.3 C516.3 359.3 516.3 360.0 527.0 360.0 C537.5 360.0 537.5 360.4 548.0 360.4 C564.0 360.4 564.0 359.8 580.0 359.8 C595.5 359.8 595.5 359.3 611.0 359.3 C625.5 359.3 625.5 359.2 640.0 359.2 C652.0 359.2 652.0 359.3 664.0 359.3 C673.0 359.3 673.0 358.6 682.0 358.6 C690.5 358.6 690.5 357.6 699.0 357.6 C705.0 357.6 705.0 359.0 711.0 359.0 C716.5 359.0 716.5 361.0 722.0 361.0 L722 367.5 L371 367.5 Z" fill="#481210"/>
<!--/ENDO-->

<!--FOLLICLES-->
<defs>
<radialGradient id="fg" cx="0.5" cy="0.5" r="0.5"><stop offset="0" stop-color="#dc979d"/><stop offset="0.7" stop-color="#d0838b"/><stop offset="1" stop-color="#bd6b76"/></radialGradient>
<radialGradient id="cav" cx="0.5" cy="0.4" r="0.6"><stop offset="0" stop-color="#c4838e"/><stop offset="0.6" stop-color="#aa5e6e"/><stop offset="1" stop-color="#8c4054"/></radialGradient>
<radialGradient id="lobe" cx="0.45" cy="0.4" r="0.6"><stop offset="0" stop-color="#fdf5e6"/><stop offset="0.7" stop-color="#f4e2c6"/><stop offset="1" stop-color="#dfc096"/></radialGradient>
<linearGradient id="ovc" x1="0" y1="0" x2="1" y2="1"><stop offset="0" stop-color="#8a2838"/><stop offset="0.5" stop-color="#c04a5c"/><stop offset="1" stop-color="#b03a4c"/></linearGradient>
</defs>
<ellipse cx="380.3" cy="82.4" rx="3" ry="3.5" fill="#aa7468"/><ellipse cx="380.2" cy="82.3" rx="1.8" ry="2.2" fill="#f3cc9e"/>
<path d="M411.7 80.8C412.1 82.6 411.9 84.7 411.6 86.4C411.2 88.2 410.4 90.1 409.3 91.3C408.2 92.5 406.5 93.1 405.0 93.4C403.4 93.7 401.7 93.8 400.2 93.2C398.7 92.6 397.1 91.2 396.0 89.8C395.0 88.4 394.2 86.4 393.8 84.6C393.4 82.8 393.2 80.6 393.7 78.9C394.1 77.2 395.2 75.6 396.3 74.4C397.4 73.2 398.9 72.1 400.4 71.8C401.9 71.5 403.7 71.9 405.2 72.5C406.6 73.2 408.2 74.3 409.2 75.7C410.3 77.1 411.3 79.0 411.7 80.8Z" fill="url(#fg)" stroke="#9c5660" stroke-width="1"/>
<path d="M411.6 80.8L407.2 81.7M411.9 83.1L407.7 82.9M411.8 85.3L407.0 83.9M411.3 87.5L406.8 85.0M410.4 89.4L406.7 86.2M409.1 91.1L406.3 87.3M407.6 92.3L405.3 87.7M405.9 93.2L404.3 87.9M404.0 93.6L403.4 88.8M402.1 93.5L402.4 87.7M400.2 92.9L401.3 88.3M398.4 91.9L400.6 87.2M396.8 90.5L399.9 86.4M395.5 88.8L399.3 85.6M394.5 86.8L398.7 84.7M393.8 84.6L397.9 83.7M393.5 82.3L398.3 82.5M393.6 80.1L398.0 81.3M394.1 77.9L398.2 80.2M395.0 76.0L398.9 79.4M396.3 74.3L399.4 78.4M397.8 73.1L400.4 78.2M399.5 72.2L401.2 77.8M401.4 71.8L402.1 77.5M403.3 71.9L403.0 77.0M405.2 72.5L403.9 77.5M407.0 73.5L404.8 78.2M408.6 74.9L405.7 78.6M409.9 76.6L406.3 79.6M410.9 78.6L406.7 80.7" stroke="#b9636f" stroke-width="0.5" fill="none" opacity="0.55"/>
<circle cx="402.6" cy="82.0" r="3.9" fill="#f8e6c0" stroke="#c99a62" stroke-width="0.5"/><circle cx="402.6" cy="82.0" r="2.3" fill="#e9a24d"/><circle cx="402.6" cy="82.0" r="1.4" fill="#f7dca8"/><circle cx="402.9" cy="82.0" r="0.6" fill="#9a5a30"/>
<path d="M451.2 81.2C451.7 83.7 451.5 86.7 450.7 89.0C449.9 91.3 448.3 93.4 446.6 95.0C444.9 96.5 442.8 97.9 440.6 98.3C438.5 98.8 435.9 98.3 433.7 97.5C431.6 96.6 429.3 95.0 427.8 93.1C426.3 91.1 425.2 88.3 424.8 85.8C424.5 83.3 424.9 80.6 425.6 78.2C426.3 75.8 427.3 73.0 429.0 71.5C430.6 70.0 433.2 69.4 435.5 69.1C437.7 68.8 440.1 68.8 442.2 69.6C444.3 70.4 446.6 72.1 448.1 74.0C449.6 75.9 450.8 78.7 451.2 81.2Z" fill="url(#fg)" stroke="#9c5660" stroke-width="1"/>
<path d="M450.7 81.3L444.7 82.3M451.0 83.5L445.3 83.5M450.9 85.8L444.6 84.7M450.5 88.1L445.2 86.1M449.8 90.2L444.9 87.4M448.8 92.1L444.1 88.4M447.6 93.9L443.7 89.7M446.1 95.4L442.4 89.9M444.4 96.6L441.7 91.1M442.5 97.4L440.6 91.5M440.6 98.0L439.5 91.7M438.5 98.1L438.3 91.7M436.5 98.0L437.1 92.1M434.5 97.4L435.9 91.9M432.6 96.5L435.0 90.8M430.8 95.3L433.8 90.3M429.2 93.8L433.5 88.8M427.8 92.1L432.1 88.5M426.7 90.1L431.5 87.3M425.8 88.0L430.5 86.2M425.3 85.7L430.4 84.8M425.0 83.5L431.0 83.5M425.1 81.2L430.9 82.2M425.5 78.9L430.8 80.9M426.2 76.8L431.9 80.1M427.2 74.9L432.0 78.7M428.4 73.1L433.0 78.0M429.9 71.6L433.8 77.3M431.6 70.4L434.7 76.8M433.5 69.6L435.3 75.3M435.4 69.0L436.7 75.9M437.5 68.9L437.7 75.7M439.5 69.0L438.8 75.5M441.5 69.6L440.1 75.2M443.4 70.5L440.8 76.7M445.2 71.7L442.0 76.9M446.8 73.2L443.0 77.7M448.2 74.9L444.1 78.4M449.3 76.9L444.7 79.6M450.2 79.0L445.3 80.8" stroke="#b9636f" stroke-width="0.5" fill="none" opacity="0.55"/>
<path d="M432.2 81.8C432.6 78.4 435.8 76.4 439.4 77.4C442.8 78.2 445.8 80.2 446.4 82.8C446.6 85 444 85.8 442.4 84.6C440.6 82.8 438 81.6 435.6 82.6C434 83.400 432 83.600 432.200 81.800Z" fill="#b67280" stroke="#eccace" stroke-width="0.7"/>
<path d="M433.6 80.400C434.600 78.600 437 77.800 439.400 78.600C441 79.200 442.400 80 443.400 81" stroke="#e6bcc2" stroke-width="1.2" fill="none" stroke-linecap="round" opacity="0.9"/>
<path d="M441.4 81.6C443.4 81 445.4 82 445.6 83.6C444.8 85 442.800 84.600 441.800 83.400Z" fill="#85384a"/>
<circle cx="436.0" cy="89.7" r="3.3" fill="#f8e6c0" stroke="#c99a62" stroke-width="0.5"/><circle cx="436.0" cy="89.7" r="1.9" fill="#e9a24d"/><circle cx="436.0" cy="89.7" r="1.2" fill="#f7dca8"/><circle cx="436.3" cy="89.7" r="0.5" fill="#9a5a30"/>
<path d="M491.8 57.9C494.6 57.9 497.3 57.8 500.0 58.6C502.7 59.4 505.7 60.9 508.0 62.6C510.3 64.3 512.2 66.4 513.6 69.0C515.0 71.6 516.0 74.8 516.3 78.0C516.6 81.2 516.3 84.9 515.4 88.0C514.5 91.1 513.1 94.2 511.0 96.6C508.9 99.0 506.0 101.1 503.0 102.6C500.0 104.1 496.3 105.1 493.0 105.4C489.7 105.7 486.1 105.3 483.0 104.2C479.9 103.1 476.9 101.0 474.6 98.6C472.3 96.2 470.2 93.1 469.0 90.0C467.8 86.9 467.2 83.3 467.3 80.0C467.4 76.7 468.2 72.9 469.6 70.0C471.0 67.1 473.3 64.5 475.6 62.6C477.9 60.7 480.7 59.6 483.4 58.8C486.1 58.0 489.0 57.9 491.8 57.9Z" fill="url(#fg)" stroke="#9c5660" stroke-width="1"/>
<path d="M515.7 81.6L509.3 81.6M515.6 83.6L509.6 83.1M515.3 85.6L509.2 84.6M514.9 87.6L510.1 86.4M514.3 89.5L509.8 88.0M513.5 91.4L507.4 88.7M512.5 93.2L506.8 90.0M511.4 94.9L506.1 91.3M510.1 96.5L505.1 92.5M508.7 98.0L504.5 94.0M507.2 99.4L503.5 95.2M505.5 100.6L501.8 95.5M503.8 101.7L500.2 95.8M501.9 102.6L499.3 97.3M500.0 103.4L497.9 97.8M498.0 104.0L496.5 98.7M496.0 104.5L495.1 99.9M493.9 104.7L493.4 99.5M491.8 104.8L491.8 99.2M489.7 104.7L490.2 99.3M487.6 104.5L488.6 99.3M485.6 104.0L487.4 97.5M483.6 103.4L485.3 99.0M481.7 102.6L483.9 98.1M479.8 101.7L482.3 97.6M478.1 100.6L481.0 96.5M476.4 99.4L480.4 94.8M474.9 98.0L479.2 93.8M473.5 96.5L478.7 92.3M472.2 94.9L476.7 91.8M471.1 93.2L477.1 89.9M470.1 91.4L476.4 88.6M469.3 89.5L475.5 87.4M468.7 87.6L475.2 85.9M468.3 85.6L474.4 84.6M468.0 83.6L474.9 83.0M467.9 81.6L475.0 81.6M468.0 79.6L474.7 80.1M468.3 77.6L475.0 78.7M468.7 75.6L474.7 77.1M469.3 73.7L475.9 76.0M470.1 71.8L474.6 73.8M471.1 70.0L475.9 72.7M472.2 68.3L477.7 72.0M473.5 66.7L478.4 70.7M474.9 65.2L479.3 69.5M476.4 63.8L480.4 68.4M478.1 62.6L482.0 68.0M479.8 61.5L482.3 65.7M481.7 60.6L483.7 64.6M483.6 59.8L485.7 65.2M485.6 59.2L487.1 64.7M487.6 58.7L488.8 65.3M489.7 58.5L490.3 65.1M491.8 58.4L491.8 64.4M493.9 58.5L493.3 64.7M496.0 58.7L495.1 63.6M498.0 59.2L496.3 65.4M500.0 59.8L497.6 66.2M501.9 60.6L499.9 64.7M503.8 61.5L500.9 66.4M505.5 62.6L501.7 67.9M507.2 63.8L503.5 68.1M508.7 65.2L503.8 70.0M510.1 66.7L505.7 70.3M511.4 68.3L507.5 70.9M512.5 70.0L508.2 72.4M513.5 71.8L508.6 74.0M514.3 73.7L508.2 75.8M514.9 75.6L508.9 77.1M515.3 77.6L508.8 78.7M515.6 79.6L510.4 80.0" stroke="#b9636f" stroke-width="0.5" fill="none" opacity="0.55"/>
<path d="M478.3 71C480.6 67.6 483 65.6 485.6 65.9C489 64.6 494 63.8 498 64.4C501 65 503 66.4 503.9 68C506.6 70 509 73 509.8 76C510.6 79.6 510.2 83 509 85.7C507.6 88.6 506 90.6 503.9 91.5C501.6 90.8 500 89.6 498.8 87.9C496.6 84.6 494 81.6 491.5 80.5C489 81.6 486.6 84 484.9 86.4C484 88.4 483.2 90 482 90.8C480 90 478.4 88.6 477.6 87C476.4 84 476.2 81 476.8 78.3C477 75.6 477.4 73 478.3 71Z" fill="url(#cav)" stroke="#e9c0c4" stroke-width="0.7"/>
<path d="M481 73C485 68.6 491 67.4 496 68.6C500 69.8 503 72.6 505 76.6" stroke="#e4b7bc" stroke-width="1.8" fill="none" opacity="0.8" stroke-linecap="round"/>
<path d="M486 73.6C489 72 494 72.4 497 74.4C494 75.6 491 77.6 489.6 79.4C488 77.6 486.6 75.6 486 73.6Z" fill="#8e4458" opacity="0.55"/>
<path d="M497 77C499.6 78.6 501.6 81.6 502.6 84.6M484.6 78.600C483.6 81 483 83.400 483.200 85.600" stroke="#dfb0b6" stroke-width="1.2" fill="none" opacity="0.7" stroke-linecap="round"/>
<path d="M480 78C481 82 482 85 483 87M506 80C506.4 83 505.6 86 504.4 88" stroke="#8e4456" stroke-width="1.2" fill="none" opacity="0.6" stroke-linecap="round"/>
<circle cx="491.2" cy="91.2" r="3.2" fill="#f8e6c0" stroke="#c99a62" stroke-width="0.5"/><circle cx="491.2" cy="91.2" r="1.9" fill="#e9a24d"/><circle cx="491.2" cy="91.2" r="1.2" fill="#f7dca8"/><circle cx="491.5" cy="91.2" r="0.5" fill="#9a5a30"/>
<path d="M532.2 69.0C532.9 67.3 534.4 65.8 536.3 64.9C538.2 64.0 542.3 63.4 545.1 62.9C547.9 62.4 551.8 61.5 554.7 61.5C557.6 61.5 561.8 62.0 564.3 62.9C566.8 63.8 569.5 65.8 571.1 67.7C572.7 69.7 574.7 73.2 575.2 75.9C575.7 78.6 574.0 83.0 574.4 85.4C574.8 87.8 577.2 89.4 577.6 91.6C578.0 93.8 577.8 98.2 577.0 100.0C576.2 101.8 574.2 102.7 572.5 103.6C570.8 104.5 567.4 106.1 565.6 105.9C563.8 105.7 562.0 102.8 560.2 102.2C558.4 101.6 555.4 102.5 553.3 101.8C551.2 101.1 548.5 99.1 546.5 97.7C544.5 96.3 541.5 94.3 539.7 92.3C537.9 90.3 535.4 86.6 534.2 84.1C533.0 81.6 531.8 78.2 531.5 75.9C531.2 73.6 531.5 70.7 532.2 69.0Z" fill="#dd9ca2" stroke="#a0555f" stroke-width="0.9"/>
<clipPath id="ovcl"><path d="M532.2 69.0C532.9 67.3 534.4 65.8 536.3 64.9C538.2 64.0 542.3 63.4 545.1 62.9C547.9 62.4 551.8 61.5 554.7 61.5C557.6 61.5 561.8 62.0 564.3 62.9C566.8 63.8 569.5 65.8 571.1 67.7C572.7 69.7 574.7 73.2 575.2 75.9C575.7 78.6 574.0 83.0 574.4 85.4C574.8 87.8 577.2 89.4 577.6 91.6C578.0 93.8 577.8 98.2 577.0 100.0C576.2 101.8 574.2 102.7 572.5 103.6C570.8 104.5 567.4 106.1 565.6 105.9C563.8 105.7 562.0 102.8 560.2 102.2C558.4 101.6 555.4 102.5 553.3 101.8C551.2 101.1 548.5 99.1 546.5 97.7C544.5 96.3 541.5 94.3 539.7 92.3C537.9 90.3 535.4 86.6 534.2 84.1C533.0 81.6 531.8 78.2 531.5 75.9C531.2 73.6 531.5 70.7 532.2 69.0Z"/></clipPath>
<path d="M555.5 95.3h0.8M546.2 70.8h0.8M568.3 104.3h0.8M570.2 96.5h0.8M568.6 93.6h0.8M541.4 83.8h0.8M547.4 62.3h0.8M532.3 73.3h0.8M542.9 91.5h0.8M575.0 80.7h0.8M574.1 104.5h0.8M574.9 77.0h0.8M541.1 71.0h0.8M540.0 70.0h0.8M559.7 100.6h0.8M569.7 82.1h0.8M561.0 96.2h0.8M534.9 90.1h0.8M572.8 95.4h0.8M565.5 82.0h0.8M539.2 95.7h0.8M546.3 96.2h0.8M575.7 78.4h0.8M549.5 102.7h0.8M564.3 68.5h0.8M536.8 67.7h0.8M572.6 96.5h0.8M537.7 97.4h0.8M576.1 89.9h0.8M547.1 85.1h0.8M537.0 61.6h0.8M575.7 89.6h0.8M555.2 102.1h0.8M551.0 99.4h0.8M569.0 70.3h0.8M542.6 73.9h0.8M542.1 86.8h0.8M542.9 79.4h0.8M537.0 101.0h0.8M547.3 81.2h0.8M557.8 100.8h0.8M550.3 101.4h0.8M554.1 84.4h0.8M555.1 61.8h0.8M551.2 69.1h0.8M531.2 96.2h0.8M538.9 81.8h0.8M564.4 85.5h0.8M546.0 83.8h0.8M556.6 95.5h0.8M535.9 85.7h0.8M542.4 73.2h0.8M566.5 83.3h0.8M556.8 94.4h0.8M573.0 80.5h0.8M559.2 83.2h0.8M554.6 91.5h0.8M551.8 84.5h0.8M553.0 102.4h0.8M563.2 99.6h0.8M574.3 72.4h0.8M556.7 102.5h0.8M569.6 67.0h0.8M536.6 80.5h0.8M534.3 71.6h0.8M534.4 90.5h0.8M567.1 100.5h0.8M538.1 92.5h0.8M561.4 67.3h0.8M571.6 103.6h0.8M541.1 102.9h0.8M549.3 82.4h0.8M576.5 97.6h0.8M538.4 80.0h0.8M554.7 75.9h0.8M540.0 75.0h0.8M564.2 61.9h0.8M556.5 80.4h0.8M531.8 75.6h0.8M559.7 83.5h0.8M534.0 104.3h0.8M567.3 103.8h0.8M535.8 72.7h0.8M532.8 95.3h0.8M543.4 66.7h0.8M550.4 101.1h0.8M568.7 72.4h0.8M537.9 101.4h0.8M557.2 91.8h0.8M535.1 63.5h0.8M562.7 79.7h0.8M534.3 102.3h0.8M560.2 96.3h0.8M534.9 98.7h0.8M534.1 99.0h0.8M551.9 75.9h0.8M556.4 101.8h0.8M543.3 66.7h0.8M555.2 71.5h0.8M536.0 68.1h0.8M533.3 69.9h0.8M545.4 74.4h0.8M565.9 73.8h0.8M554.0 68.8h0.8M547.0 61.8h0.8M542.5 61.7h0.8M564.7 85.2h0.8M539.7 81.9h0.8M574.0 65.7h0.8M568.7 80.0h0.8M553.8 97.7h0.8M549.1 83.3h0.8M562.6 104.2h0.8M546.8 97.6h0.8M563.5 89.0h0.8M549.6 76.3h0.8M533.5 66.7h0.8M534.3 93.6h0.8M542.8 68.2h0.8M534.9 98.0h0.8M571.0 90.5h0.8M544.0 71.7h0.8M544.5 81.2h0.8M538.2 80.6h0.8M543.1 103.3h0.8M575.7 85.1h0.8M542.2 103.5h0.8M545.2 76.7h0.8M531.0 77.8h0.8M552.8 83.1h0.8M540.2 83.2h0.8M531.2 72.6h0.8M535.1 78.6h0.8M532.9 62.0h0.8M545.0 71.2h0.8M557.9 84.3h0.8M565.5 89.9h0.8M563.9 99.7h0.8M548.9 75.3h0.8M576.3 67.6h0.8M564.3 89.3h0.8M533.0 97.8h0.8M572.0 88.6h0.8M564.8 96.7h0.8M537.4 84.0h0.8M554.2 97.7h0.8M568.0 97.4h0.8M557.9 100.3h0.8M562.4 91.5h0.8M541.6 62.4h0.8M537.1 76.9h0.8M535.8 97.8h0.8M556.7 88.6h0.8M559.8 90.9h0.8M553.5 61.1h0.8M567.7 93.9h0.8M554.1 84.5h0.8M561.3 63.9h0.8M564.9 72.1h0.8M534.4 72.7h0.8M564.5 70.0h0.8M565.0 103.9h0.8M553.7 77.8h0.8M553.0 91.1h0.8M566.3 88.1h0.8M560.6 64.4h0.8M537.8 72.2h0.8M565.2 74.4h0.8M557.1 61.5h0.8M533.8 72.8h0.8M561.9 91.5h0.8M562.1 73.8h0.8M554.8 81.4h0.8M552.5 66.2h0.8M572.1 69.8h0.8M576.0 102.2h0.8M531.8 81.2h0.8M568.7 103.6h0.8M551.7 72.8h0.8M540.7 102.6h0.8M540.7 86.6h0.8M537.5 84.1h0.8M574.8 66.8h0.8M568.7 83.4h0.8M571.8 91.9h0.8M541.6 100.5h0.8M553.4 62.1h0.8M531.2 82.6h0.8M551.7 74.3h0.8M537.5 76.1h0.8M545.5 98.0h0.8M531.1 94.0h0.8M569.6 66.3h0.8M573.6 92.4h0.8M572.5 73.8h0.8M548.1 78.3h0.8M576.9 86.9h0.8M547.6 79.8h0.8M543.7 63.1h0.8M535.7 97.7h0.8M544.1 102.2h0.8M542.5 72.7h0.8M554.5 69.4h0.8M548.2 103.1h0.8M571.7 96.7h0.8M560.0 101.2h0.8M574.3 85.2h0.8M564.1 63.2h0.8M564.7 80.8h0.8M565.6 89.4h0.8M544.2 63.2h0.8M573.6 66.6h0.8M552.7 76.1h0.8M544.7 93.5h0.8M575.9 72.4h0.8M561.2 74.2h0.8M556.6 78.4h0.8M538.7 68.1h0.8M540.6 100.9h0.8M553.9 70.7h0.8M572.7 104.8h0.8M551.7 67.1h0.8M539.9 65.0h0.8M546.7 65.0h0.8M542.0 72.4h0.8M557.2 100.0h0.8M565.5 79.2h0.8M550.0 84.1h0.8M548.3 75.9h0.8M533.9 73.2h0.8M575.5 66.5h0.8M554.2 88.7h0.8M570.7 70.5h0.8M543.5 71.9h0.8M549.4 80.6h0.8M574.9 98.3h0.8M571.2 62.0h0.8M532.5 92.2h0.8M572.2 81.8h0.8M558.0 61.0h0.8M549.0 101.8h0.8M569.0 98.6h0.8M575.7 71.9h0.8M536.0 67.8h0.8M555.0 91.0h0.8M574.3 92.8h0.8M560.8 94.7h0.8M552.0 85.3h0.8M532.8 95.4h0.8M541.7 101.5h0.8M560.7 74.4h0.8M536.9 72.1h0.8M560.3 91.7h0.8M536.2 64.1h0.8M555.1 86.6h0.8M548.9 70.8h0.8M558.6 61.5h0.8M544.9 81.3h0.8M575.1 89.4h0.8M571.7 81.9h0.8" stroke="#bf6b76" stroke-width="0.8" clip-path="url(#ovcl)" opacity="0.75"/>
<path d="M536.3 74.5L540 74.6L542.4 73.1L543 70.6L543.8 69.7L547 70.8L549.2 70.4L552 72.5L555 71.4L557.4 71.8L561 72L564.3 74.5L566.4 77L568.4 81.3L569.6 86L571.1 90.9L574 94L576 99L572.5 102.4L569 101.6L566 104.8L562 103L560 100.6L557.4 99.4L553 97.6L550.6 93.6L548 89L546.5 85.4L543.6 83.6L541 81.3L539 79.4L537.6 77.9Z" fill="url(#ovc)" stroke="#7e2433" stroke-width="0.6" stroke-linejoin="round"/>
<path d="M548 76L560 96M552.5 75L566 98M557.5 75.5L569 93M545 79L556 97" stroke="#de7282" stroke-width="1.3" fill="none" opacity="0.75" stroke-linecap="round"/>
<path d="M550.2 75.4L563 97.4M555 75L567.6 95.6M546.6 77.4L558 96.6M560.4 76.4L569.4 90" stroke="#7e2232" stroke-width="0.7" fill="none" opacity="0.8" stroke-linecap="round"/>
<path d="M566 103L568.6 108.4M561 101.6L562.4 106.6M573.6 101.6L577.4 105M576 96L580 97.6M575 92.6L578.4 91.6" stroke="#c4485a" stroke-width="1.3" fill="none" stroke-linecap="round"/>
<path d="M538.4 75.4L541 76L543.4 74.6L544.6 71.6L547 72.4L549 72L548 76L545 79.6L541.6 80.4L539.6 78.4Z" fill="#7c2232"/>
<path d="M562 94.600h0.010M565 98.400h0.010M559 97h0.010M568 100.800h0.010M563 101h0.010M566.400 93h0.010" stroke="#f6d8d8" stroke-width="1.1" stroke-linecap="round"/>
<circle cx="572" cy="97" r="3.6" fill="#f1d372" stroke="#b0503c" stroke-width="0.6"/><circle cx="572" cy="97" r="2.1" fill="#dc8434"/><circle cx="572.2" cy="97" r="1" fill="#7a3a22"/>
<defs><radialGradient id="lobe2" cx="0.5" cy="0.5" r="0.5"><stop offset="0" stop-color="#dcbd90"/><stop offset="0.4" stop-color="#f0dfc2"/><stop offset="0.75" stop-color="#fbf5e8"/><stop offset="1" stop-color="#f0dcbc"/></radialGradient></defs>
<path d="M628.8 83.1L631.0 84.2L631.7 85.3L631.9 86.4L631.9 87.6L631.6 88.6L631.0 89.6L630.1 90.4L629.1 91.1L627.7 91.5L625.2 91.1L626.1 93.5L625.5 95.0L624.5 96.4L623.2 97.4L621.7 98.2L620.0 98.7L618.2 98.9L616.4 98.8L614.6 98.1L613.0 96.1L612.1 97.7L611.0 98.3L610.0 98.6L608.9 98.6L607.9 98.5L606.9 98.2L606.1 97.6L605.3 96.9L604.8 96.0L604.9 94.1L603.3 95.1L602.2 95.1L601.2 94.9L600.3 94.6L599.6 94.1L599.0 93.4L598.6 92.7L598.4 91.8L598.4 90.9L599.5 89.4L597.3 89.6L596.2 89.2L595.3 88.6L594.7 87.8L594.3 87.0L594.1 86.1L594.2 85.2L594.5 84.3L595.2 83.4L597.2 82.6L595.1 81.3L594.5 80.0L594.3 78.6L594.4 77.3L594.8 76.0L595.5 74.8L596.5 73.7L597.8 72.9L599.3 72.3L601.7 72.6L601.0 70.5L601.4 69.2L602.2 68.2L603.2 67.3L604.4 66.7L605.7 66.3L607.0 66.1L608.5 66.3L609.9 66.8L611.4 68.6L612.1 66.9L613.1 66.2L614.1 65.9L615.2 65.7L616.2 65.8L617.2 66.0L618.1 66.5L619.0 67.1L619.6 68.0L619.7 69.8L621.6 68.4L623.0 68.1L624.2 68.3L625.3 68.6L626.3 69.2L627.1 69.9L627.6 70.8L627.9 71.9L627.8 73.1L626.4 74.9L628.9 74.7L630.2 75.3L631.2 76.0L631.9 76.9L632.4 77.9L632.6 79.0L632.4 80.1L632.0 81.2L631.2 82.2Z" fill="url(#lobe2)" stroke="#9c7652" stroke-width="1.1" stroke-linejoin="round"/><path d="M628.8 83.1C626.9 82.2 623.3 79.3 621.2 80.9M625.2 91.1C624.2 89.4 623.4 85.2 620.5 85.3M613.0 96.1C613.8 94.3 616.5 91.3 614.8 89.4M604.9 94.1C606.5 92.9 610.4 91.5 610.2 89.1M599.5 89.4C600.8 88.0 602.4 84.5 605.2 84.7M597.2 82.6C599.1 82.0 602.4 80.0 604.8 81.2M601.7 72.6C602.5 74.5 602.8 79.0 605.7 78.8M611.4 68.6C610.7 70.4 608.0 73.9 610.1 75.5M619.7 69.8C617.7 71.0 612.0 72.9 613.7 75.1M626.4 74.9C624.0 75.0 618.1 74.0 618.1 76.6" fill="none" stroke="#cfae84" stroke-width="1.7" stroke-linecap="round" opacity="0.85"/><path d="M628.8 83.1C626.9 82.2 623.3 79.3 621.2 80.9M625.2 91.1C624.2 89.4 623.4 85.2 620.5 85.3M613.0 96.1C613.8 94.3 616.5 91.3 614.8 89.4M604.9 94.1C606.5 92.9 610.4 91.5 610.2 89.1M599.5 89.4C600.8 88.0 602.4 84.5 605.2 84.7M597.2 82.6C599.1 82.0 602.4 80.0 604.8 81.2M601.7 72.6C602.5 74.5 602.8 79.0 605.7 78.8M611.4 68.6C610.7 70.4 608.0 73.9 610.1 75.5M619.7 69.8C617.7 71.0 612.0 72.9 613.7 75.1M626.4 74.9C624.0 75.0 618.1 74.0 618.1 76.6" fill="none" stroke="#a07a52" stroke-width="0.6" stroke-linecap="round"/>
<path d="M604.5 76.9L608.3 79.5L613.4 78.2L617.8 79.5L620.3 78.2L619.7 83.3L615.3 86.4L608.9 87.1L605.1 83.9Z" fill="#9d4553" stroke="#d39a64" stroke-width="1.2" stroke-linejoin="round"/>
<path d="M680.4 85.7L682.0 87.7L682.2 89.5L681.9 91.2L681.2 92.9L680.2 94.4L679.0 95.7L677.5 96.8L675.7 97.7L673.8 98.2L671.1 97.4L671.6 99.3L671.4 100.2L670.9 100.8L670.4 101.3L669.8 101.7L669.1 101.8L668.3 101.8L667.5 101.6L666.6 101.1L665.5 99.6L664.9 102.1L663.8 103.1L662.6 103.8L661.2 104.2L659.9 104.3L658.6 104.1L657.3 103.6L656.1 102.9L655.1 101.8L654.6 99.3L652.7 101.0L651.1 101.3L649.6 101.3L648.2 100.9L647.0 100.3L645.9 99.5L645.0 98.5L644.3 97.3L644.1 95.9L645.1 93.6L642.7 93.6L641.3 92.9L640.1 91.9L639.2 90.7L638.5 89.4L638.1 88.0L637.9 86.6L638.0 85.2L638.6 83.7L640.4 82.4L638.0 80.9L637.3 79.3L637.0 77.7L637.1 76.1L637.5 74.6L638.3 73.1L639.4 71.8L640.7 70.7L642.4 69.9L645.3 70.2L644.5 68.1L644.9 66.7L645.5 65.6L646.4 64.7L647.5 63.9L648.7 63.4L650.0 63.0L651.5 62.9L653.0 63.2L654.8 64.7L655.3 62.6L656.3 61.6L657.4 61.0L658.6 60.6L659.9 60.5L661.1 60.5L662.4 60.9L663.5 61.4L664.6 62.3L665.2 64.4L667.1 62.9L668.8 62.7L670.4 62.8L672.0 63.2L673.4 63.8L674.6 64.6L675.7 65.7L676.5 66.9L677.0 68.4L676.3 70.6L678.6 70.3L679.9 70.9L681.0 71.6L681.8 72.5L682.5 73.6L682.9 74.7L683.0 75.8L682.9 77.1L682.4 78.3L680.7 79.6L682.6 80.0L683.4 80.7L683.8 81.4L684.1 82.1L684.2 82.8L684.0 83.5L683.7 84.2L683.2 84.8L682.4 85.4Z" fill="url(#lobe2)" stroke="#9c7652" stroke-width="1.1" stroke-linejoin="round"/><path d="M680.4 85.7C677.1 85.9 672.2 88.0 671.8 86.4M671.1 97.4C670.3 94.5 671.2 89.4 669.2 89.7M665.5 99.6C665.8 96.5 668.7 91.6 666.6 91.5M654.6 99.3C654.6 96.3 652.5 91.6 654.4 91.4M645.1 93.6C646.7 90.8 647.5 84.5 649.2 86.0M640.4 82.4C643.5 81.7 647.5 79.2 648.5 80.4M645.3 70.2C648.2 71.5 653.3 71.9 653.1 73.4M654.8 64.7C656.5 67.2 660.5 70.0 659.4 71.2M665.2 64.4C665.8 67.5 669.1 72.7 666.8 72.6M676.3 70.6C674.3 72.8 672.7 76.8 671.1 76.5M680.7 79.6C677.6 80.7 673.8 84.0 672.8 82.8" fill="none" stroke="#cfae84" stroke-width="1.7" stroke-linecap="round" opacity="0.85"/><path d="M680.4 85.7C677.1 85.9 672.2 88.0 671.8 86.4M671.1 97.4C670.3 94.5 671.2 89.4 669.2 89.7M665.5 99.6C665.8 96.5 668.7 91.6 666.6 91.5M654.6 99.3C654.6 96.3 652.5 91.6 654.4 91.4M645.1 93.6C646.7 90.8 647.5 84.5 649.2 86.0M640.4 82.4C643.5 81.7 647.5 79.2 648.5 80.4M645.3 70.2C648.2 71.5 653.3 71.9 653.1 73.4M654.8 64.7C656.5 67.2 660.5 70.0 659.4 71.2M665.2 64.4C665.8 67.5 669.1 72.7 666.8 72.6M676.3 70.6C674.3 72.8 672.7 76.8 671.1 76.5M680.7 79.6C677.6 80.7 673.8 84.0 672.8 82.8" fill="none" stroke="#a07a52" stroke-width="0.6" stroke-linecap="round"/>
<path d="M670.5 88.0Q665.6 89.8 661.9 86.1M662.8 92.5Q658.0 90.7 658.2 85.7M653.8 90.8Q651.9 86.5 656.0 83.1M648.8 84.0Q650.9 79.6 656.4 79.9M650.7 76.0Q655.6 74.2 659.3 77.9M658.4 71.5Q663.2 73.3 663.0 78.3M667.4 73.2Q669.3 77.5 665.2 80.9M672.4 80.0Q670.3 84.4 664.8 84.1" fill="none" stroke="#c9a77c" stroke-width="1.5" stroke-linecap="round" opacity="0.9"/>
<path d="M670.5 88.0Q665.6 89.8 661.9 86.1M662.8 92.5Q658.0 90.7 658.2 85.7M653.8 90.8Q651.9 86.5 656.0 83.1M648.8 84.0Q650.9 79.6 656.4 79.9M650.7 76.0Q655.6 74.2 659.3 77.9M658.4 71.5Q663.2 73.3 663.0 78.3M667.4 73.2Q669.3 77.5 665.2 80.9M672.4 80.0Q670.3 84.4 664.8 84.1" fill="none" stroke="#a07a52" stroke-width="0.6" stroke-linecap="round"/>
<path d="M656.6 81.2L659 80.4L661.6 81.4L663.4 83L661.6 84.4L658 84.2L656.4 83Z" fill="#9a3f4c" stroke="#d39a64" stroke-width="0.8" stroke-linejoin="round"/>
<path d="M684.4 70.0C685.0 70.4 686.7 71.8 688.0 72.6C689.3 73.4 691.0 74.7 692.4 75.0C693.8 75.3 695.2 75.2 696.4 74.6C697.6 74.0 698.7 72.6 699.6 71.6C700.5 70.6 701.3 68.9 701.6 68.4M696.4 74.8C696.7 75.4 697.5 77.4 698.0 78.6C698.5 79.8 699.2 80.9 699.6 82.0C700.0 83.1 700.4 84.8 700.6 85.4M708.6 68.6C709.1 68.5 710.6 67.6 711.6 67.8C712.6 68.0 713.9 69.6 714.4 70.0M711.0 68.4C710.9 69.2 710.6 71.2 710.6 73.0C710.6 74.8 710.5 77.6 711.0 79.0C711.5 80.4 712.6 81.0 713.6 81.6C714.6 82.2 716.1 82.7 717.0 82.4C717.9 82.1 718.5 80.4 718.8 80.0M710.8 79.0C710.5 79.9 709.4 82.8 709.0 84.6C708.6 86.4 708.6 88.2 708.4 90.0C708.2 91.8 708.1 94.7 708.0 95.6M703.6 76.0C704.0 76.4 705.1 77.8 706.0 78.4C706.9 79.0 708.5 79.4 709.0 79.6M714.6 75.4C714.9 75.0 716.3 73.4 716.6 73.0" fill="none" stroke="#bfa37c" stroke-width="5.8" stroke-linecap="round" stroke-linejoin="round"/>
<path d="M684.4 70.0C685.0 70.4 686.7 71.8 688.0 72.6C689.3 73.4 691.0 74.7 692.4 75.0C693.8 75.3 695.2 75.2 696.4 74.6C697.6 74.0 698.7 72.6 699.6 71.6C700.5 70.6 701.3 68.9 701.6 68.4M696.4 74.8C696.7 75.4 697.5 77.4 698.0 78.6C698.5 79.8 699.2 80.9 699.6 82.0C700.0 83.1 700.4 84.8 700.6 85.4M708.6 68.6C709.1 68.5 710.6 67.6 711.6 67.8C712.6 68.0 713.9 69.6 714.4 70.0M711.0 68.4C710.9 69.2 710.6 71.2 710.6 73.0C710.6 74.8 710.5 77.6 711.0 79.0C711.5 80.4 712.6 81.0 713.6 81.6C714.6 82.2 716.1 82.7 717.0 82.4C717.9 82.1 718.5 80.4 718.8 80.0M710.8 79.0C710.5 79.9 709.4 82.8 709.0 84.6C708.6 86.4 708.6 88.2 708.4 90.0C708.2 91.8 708.1 94.7 708.0 95.6M703.6 76.0C704.0 76.4 705.1 77.8 706.0 78.4C706.9 79.0 708.5 79.4 709.0 79.6M714.6 75.4C714.9 75.0 716.3 73.4 716.6 73.0" fill="none" stroke="#f8f0e0" stroke-width="4.4" stroke-linecap="round" stroke-linejoin="round"/>
<!--/FOLLICLES-->

<!-- frame -->
<path class="ln" d="M371.3 367.5V28.9H721.7V367.5"/>
<path class="ln" d="M421.5 28.9V36.2M421.5 53.6V367.5"/>
<path class="ln" d="M546.5 28.9V36.2M546.5 53.6V63M546.5 97V367.5"/>

<!--CURVES-->
<path class="cv" stroke="#2c8dc6" d="M371.3 240.4C379.7 240.3 406.1 240.2 421.7 240.1C437.3 240.0 453.7 239.6 465.0 239.6C476.3 239.6 483.3 239.9 489.4 239.9C495.5 239.9 497.5 239.9 501.6 239.5C505.7 239.1 509.7 238.6 513.8 237.7C517.9 236.8 521.9 235.5 526.0 234.0C530.1 232.5 534.8 230.2 538.2 228.5C541.7 226.8 544.4 225.0 546.7 223.7C549.1 222.4 550.1 221.9 552.3 220.5C554.4 219.1 557.1 217.0 559.6 215.0C562.1 213.0 564.5 210.7 567.0 208.4C569.5 206.1 571.9 203.7 574.3 201.1C576.7 198.5 579.3 195.8 581.6 193.0C583.9 190.2 586.2 186.8 588.0 184.4C589.8 182.0 590.4 180.9 592.3 178.3C594.2 175.7 597.1 171.7 599.6 168.8C602.1 165.9 604.5 163.3 607.0 160.7C609.5 158.1 611.9 155.7 614.3 153.4C616.7 151.1 619.2 148.8 621.6 146.8C624.0 144.9 626.5 143.1 628.9 141.7C631.3 140.3 633.4 139.2 636.2 138.5C639.0 137.8 643.3 137.2 645.9 137.2C648.5 137.1 649.8 137.5 651.7 138.2C653.7 138.8 655.7 139.9 657.6 141.1C659.5 142.3 661.5 143.7 663.4 145.5C665.3 147.3 667.3 149.5 669.3 152.1C671.2 154.7 673.1 157.5 675.1 160.9C677.1 164.3 679.1 168.6 681.0 172.6C682.9 176.6 685.1 181.7 686.6 185.0C688.1 188.3 688.5 189.4 689.8 192.3C691.0 195.2 692.6 199.2 694.1 202.6C695.6 206.0 697.0 209.4 698.5 212.8C700.0 216.2 701.4 220.1 702.9 223.0C704.4 225.9 705.8 228.3 707.3 230.4C708.8 232.5 710.2 234.2 711.7 235.5C713.2 236.8 714.5 237.6 716.1 238.4C717.7 239.2 720.6 240.2 721.5 240.5"/>
<path class="cv" stroke="#689a58" d="M371.3 222.4C372.7 221.7 376.6 219.5 379.6 218.2C382.6 216.9 385.7 215.6 389.4 214.5C393.1 213.4 397.5 212.2 401.6 211.5C405.7 210.8 410.2 210.3 413.8 210.2C417.4 210.0 420.2 210.3 423.5 210.6C426.8 210.9 430.1 211.5 433.3 211.8C436.6 212.2 439.8 212.4 443.0 212.7C446.2 212.9 449.1 213.1 452.8 213.3C456.5 213.6 460.9 213.8 465.0 214.2C469.1 214.6 473.1 215.4 477.2 216.0C481.3 216.6 485.3 217.3 489.4 217.8C493.5 218.3 497.5 218.7 501.6 219.1C505.7 219.5 510.7 219.9 513.8 220.0C516.8 220.1 518.1 219.9 519.9 219.4C521.7 218.9 523.5 218.0 524.8 217.0C526.1 216.0 527.0 215.1 527.8 213.3C528.6 211.6 529.1 209.2 529.6 206.5C530.1 203.8 530.2 200.1 530.5 197.0C530.8 193.9 530.8 190.4 531.2 188.0C531.6 185.6 532.3 183.6 533.0 182.3C533.7 181.0 534.4 180.4 535.2 180.2C536.0 180.0 536.9 180.2 538.0 181.0C539.1 181.8 540.8 183.5 542.0 185.0C543.2 186.5 544.1 188.4 545.0 190.0C545.9 191.6 546.2 192.0 547.4 194.5C548.6 197.0 550.4 201.8 552.3 205.0C554.2 208.2 556.8 211.6 558.9 214.0C561.0 216.4 562.4 217.6 565.0 219.3C567.6 221.1 571.5 223.2 574.3 224.5C577.1 225.8 579.2 226.5 581.6 227.2C584.0 227.9 585.2 228.0 588.9 228.6C592.6 229.2 598.7 230.2 603.6 230.8C608.5 231.4 613.3 231.7 618.2 232.1C623.1 232.5 628.3 232.8 632.8 233.0C637.3 233.2 641.4 233.3 645.0 233.3C648.6 233.3 650.6 233.2 654.6 233.0C658.6 232.8 664.4 232.5 669.3 232.1C674.2 231.7 679.0 231.3 683.9 230.8C688.8 230.3 694.8 229.5 698.5 228.9C702.2 228.3 703.4 228.0 705.9 227.4C708.4 226.8 710.6 226.0 713.2 225.2C715.8 224.4 720.1 223.2 721.5 222.8"/>
<path class="cv" stroke="#e1b22f" d="M371.3 234.3C372.8 234.3 377.0 234.2 380.0 234.1C383.0 234.0 385.8 234.1 389.4 233.8C393.0 233.5 397.5 232.9 401.6 232.2C405.7 231.5 410.5 230.6 413.8 229.8C417.1 229.1 418.4 228.7 421.7 227.7C424.9 226.7 429.8 225.1 433.3 223.7C436.9 222.3 439.8 220.9 443.0 219.4C446.2 217.9 449.5 216.4 452.8 214.5C456.1 212.6 459.7 209.8 462.6 207.8C465.5 205.8 467.5 204.4 470.0 202.5C472.5 200.6 475.0 198.7 477.5 196.3C480.0 193.9 482.1 191.2 485.0 188.0C487.9 184.8 492.0 180.5 495.0 177.0C498.0 173.5 500.7 170.7 503.0 167.0C505.3 163.3 507.0 159.0 509.0 155.0C511.0 151.0 513.2 146.3 515.0 143.0C516.8 139.7 518.5 137.1 520.0 135.4C521.5 133.7 522.7 132.8 524.0 132.6C525.3 132.4 526.5 132.4 528.0 134.0C529.5 135.6 531.5 139.2 533.0 142.0C534.5 144.8 535.7 147.2 537.0 151.0C538.3 154.8 539.7 159.8 541.0 165.0C542.3 170.2 544.0 177.4 545.0 182.0C546.0 186.6 546.3 188.8 547.0 192.5C547.7 196.2 548.5 200.4 549.4 204.0C550.3 207.6 551.3 211.4 552.3 214.3C553.3 217.2 554.2 219.8 555.2 221.6C556.2 223.4 557.1 224.5 558.2 225.3C559.3 226.1 560.3 226.4 561.8 226.3C563.3 226.2 564.9 225.4 567.0 224.5C569.1 223.6 571.9 222.4 574.3 220.9C576.7 219.4 579.2 217.4 581.6 215.7C584.0 214.0 586.5 212.3 588.9 210.6C591.3 208.9 593.8 207.1 596.2 205.5C598.7 203.9 601.2 202.4 603.6 201.1C606.0 199.8 608.5 198.5 610.9 197.4C613.3 196.3 615.8 195.3 618.2 194.5C620.6 193.7 623.1 193.2 625.5 192.8C627.9 192.4 630.3 192.2 632.8 192.3C635.2 192.4 637.8 193.0 640.2 193.5C642.6 194.0 644.9 194.3 647.3 195.2C649.7 196.1 652.1 197.4 654.6 198.9C657.1 200.4 659.5 202.2 662.0 204.0C664.5 205.8 666.9 208.1 669.3 209.9C671.7 211.7 674.2 213.3 676.6 215.0C679.0 216.7 681.5 218.6 683.9 220.1C686.3 221.6 688.8 222.9 691.2 224.2C693.6 225.5 696.0 226.6 698.5 227.7C701.0 228.8 703.4 229.8 705.9 230.7C708.4 231.6 710.6 232.3 713.2 233.0C715.8 233.7 720.1 234.7 721.5 235.0"/>
<path class="cv" stroke="#ec5672" d="M371.3 237.1C372.7 236.8 376.6 235.7 379.6 235.2C382.6 234.7 385.7 234.1 389.4 233.9C393.1 233.7 396.2 233.7 401.6 233.8C407.0 233.9 414.8 234.2 421.7 234.3C428.6 234.4 435.8 234.4 443.0 234.6C450.2 234.8 459.3 235.2 465.0 235.5C470.7 235.8 473.1 236.2 477.2 236.5C481.3 236.8 485.3 237.1 489.4 237.1C493.5 237.1 498.6 237.1 501.6 236.7C504.7 236.3 505.7 235.6 507.7 234.6C509.7 233.6 512.0 232.0 513.8 230.4C515.6 228.8 517.3 226.9 518.7 224.9C520.1 222.9 521.4 220.8 522.3 218.2C523.2 215.5 523.7 212.7 524.3 209.0C524.9 205.3 525.3 200.3 525.8 196.0C526.2 191.7 526.6 187.5 527.0 183.0C527.4 178.5 527.9 174.3 528.4 169.0C528.9 163.7 529.4 156.6 530.0 151.0C530.6 145.4 531.3 139.6 532.0 135.5C532.7 131.4 533.3 128.4 534.0 126.4C534.7 124.4 535.3 123.4 536.0 123.4C536.7 123.4 537.3 124.1 538.0 126.4C538.7 128.7 539.3 132.9 540.0 137.0C540.7 141.1 541.2 145.7 542.0 151.0C542.8 156.3 544.0 163.4 545.0 169.0C546.0 174.6 547.0 180.1 548.0 184.5C549.0 188.9 549.7 191.4 550.9 195.2C552.1 198.9 553.8 203.6 555.2 207.0C556.7 210.4 558.1 212.9 559.6 215.7C561.1 218.5 562.5 221.7 564.0 223.8C565.5 225.9 566.7 226.9 568.4 228.2C570.1 229.5 572.1 230.6 574.3 231.6C576.5 232.6 579.2 233.3 581.6 234.0C584.0 234.7 585.2 235.3 588.9 236.0C592.6 236.7 598.7 237.5 603.6 238.0C608.5 238.5 613.3 238.9 618.2 239.2C623.1 239.5 628.3 239.7 632.8 239.9C637.3 240.1 641.4 240.2 645.0 240.3C648.6 240.4 650.6 240.6 654.6 240.6C658.6 240.6 664.4 240.7 669.3 240.6C674.2 240.5 680.2 240.2 683.9 239.9C687.5 239.6 688.8 239.3 691.2 238.9C693.6 238.5 696.0 238.1 698.5 237.7C701.0 237.3 703.4 236.9 705.9 236.7C708.4 236.5 710.6 236.4 713.2 236.5C715.8 236.6 720.1 236.9 721.5 237.0"/>
<!--/CURVES-->

<!-- axis -->
<g class="ln" id="ticks">
<path d="M371.4 367.4V375.4M396.4 367.4V375.4M421.4 367.4V375.4M446.4 367.4V375.4M471.5 367.4V375.4M496.5 367.4V375.4M521.5 367.4V375.4M546.5 367.4V375.4M571.5 367.4V375.4M596.5 367.4V375.4M621.5 367.4V375.4M646.6 367.4V375.4M671.6 367.4V375.4M696.6 367.4V375.4M721.6 367.4V375.4"/>
</g>
<g text-anchor="middle" id="nums">
<text x="372.4" y="389.2">0</text><text x="397.4" y="389.2">2</text><text x="422.4" y="389.2">4</text><text x="447.4" y="389.2">6</text><text x="472.5" y="389.2">8</text><text x="497.5" y="389.2">10</text><text x="522.5" y="389.2">12</text><text x="547.5" y="389.2">14</text><text x="572.5" y="389.2">16</text><text x="597.5" y="389.2">18</text><text x="622.5" y="389.2">20</text><text x="647.6" y="389.2">22</text><text x="672.6" y="389.2">24</text><text x="697.6" y="389.2">26</text><text x="722.6" y="389.2">28</text>
</g>
<text x="477.6" y="404.8" textLength="137.4">days of menstrual cycle</text>
<text x="268.8" y="404.2" style="font-size:10px;fill:#444" textLength="165.6">© 2013 Encyclopædia Britannica, Inc.</text>

<!-- labels -->
<text class="b" x="410.3" y="19" textLength="93.7">follicular phase</text>
<text class="b" x="595.1" y="19" textLength="74.6">luteal phase</text>
<text x="375.4" y="49.8">menstruation</text>
<text x="519" y="49.8" textLength="52.6">ovulation</text>
<text x="278" y="79.4">follicular</text>
<text x="277.6" y="94.8" textLength="75">development</text>
<text x="278" y="189.6" textLength="71.4">pituitary and</text>
<text x="278" y="204.7">ovarian</text>
<text x="278" y="220.2">hormone</text>
<text x="278" y="235.5">levels</text>
<text x="278" y="318.4">endometrial</text>
<text x="278" y="333.9">cycle</text>
<text x="391.3" y="206.7" style="font-size:12.3px">FSH</text>
<text x="526.5" y="121">LH</text>
<text x="447.5" y="167.2">estrogen</text>
<text x="608.9" y="133.4">progesterone</text>
</svg>
</body></html>
